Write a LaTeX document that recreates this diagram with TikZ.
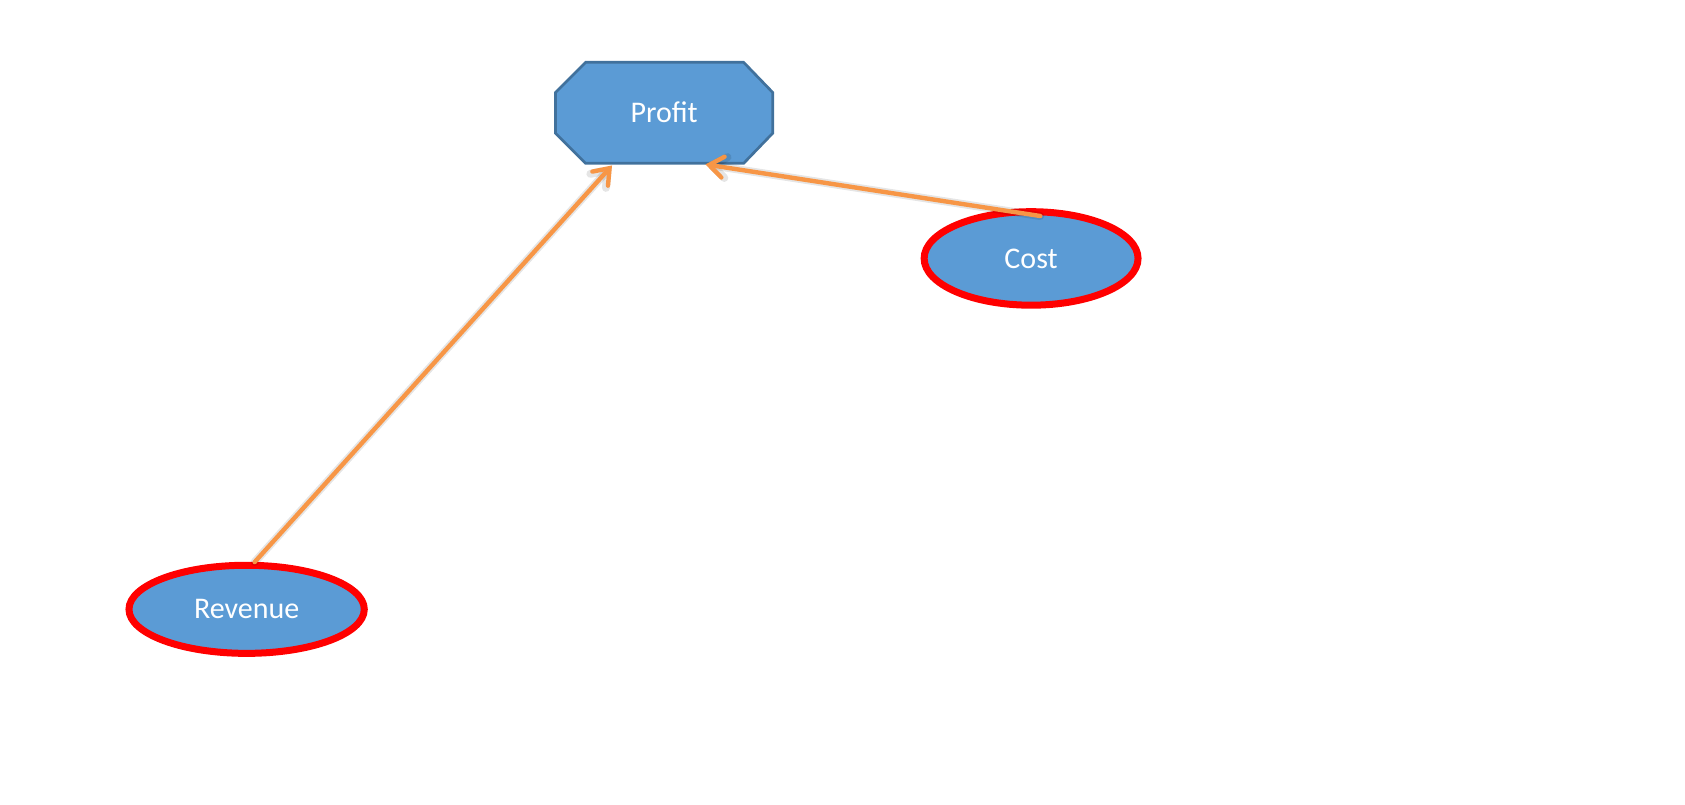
\documentclass[tikz,border=0pt]{standalone}
\usepackage{fontspec}
\setmainfont{Carlito}
\usetikzlibrary{shapes.geometric,arrows.meta}
\definecolor{nodefill}{HTML}{5B9BD5}
\definecolor{nodeline}{HTML}{41719C}
\definecolor{arr}{HTML}{F79646}
\begin{document}
\begin{tikzpicture}[x=1.0746pt,y=-1.0746pt,
  lbl/.style={text=white,font=\fontsize{30}{35}\selectfont},
  oval/.style={ellipse,draw=red,line width=7pt,fill=nodefill,inner sep=0pt,lbl},
  head/.style={-{Straight Barb[length=14pt,width=21pt,line cap=round]}},
  link/.style={draw=arr,line width=4.4pt,head,line cap=round},
  linkshadow/.style={draw=black,opacity=0.10,line width=8pt,head,line cap=round,shift={(2,3.5)}}]
\useasboundingbox (0,0) rectangle (1568,748.2);
\draw[fill=nodefill,draw=nodeline,line width=2.7pt]
  (545,58) -- (692,58) -- (719,86) -- (719,124) -- (692,152) -- (545,152) -- (517,124) -- (517,86) -- cycle;
\node[lbl] (profit) at (618,104) {Profit};
\coordinate (pr) at (569.5,154);
\coordinate (pc) at (656.5,153);
\node[oval,minimum width=213.9pt,minimum height=93.5pt] (cost) at (959.5,240.5) {Cost};
\node[oval,minimum width=235.3pt,minimum height=88.1pt] (rev) at (229.5,567) {Revenue};
\coordinate (rs) at (237,523);
\coordinate (cs) at (968,201);
\draw[linkshadow] (rs) -- (pr);
\draw[linkshadow] (cs) -- (pc);
\draw[link] (rs) -- (pr);
\draw[link] (cs) -- (pc);
\end{tikzpicture}
\end{document}
